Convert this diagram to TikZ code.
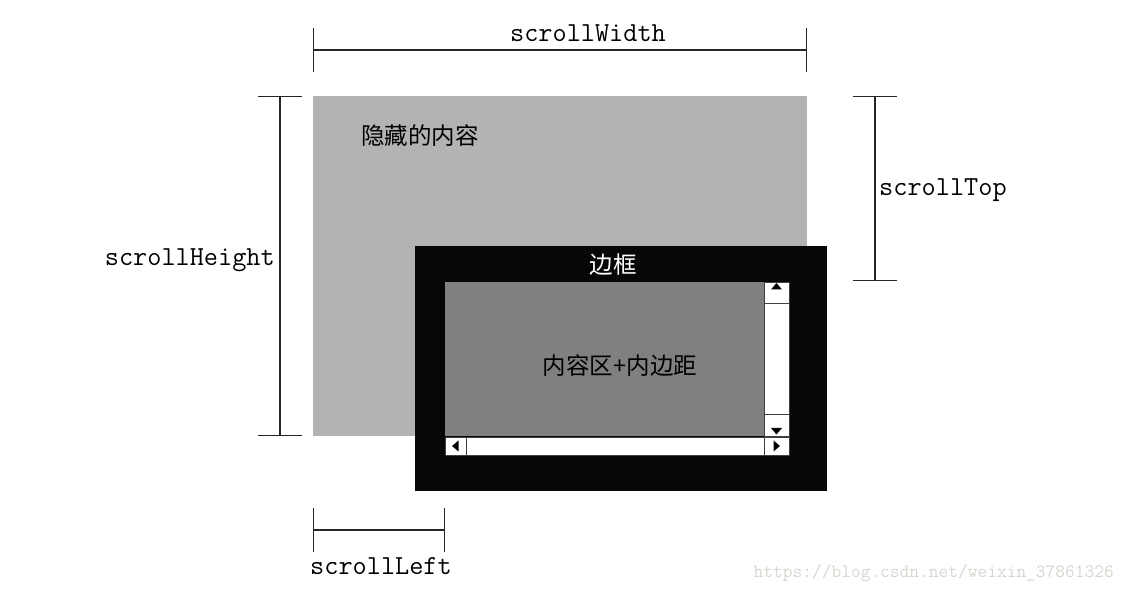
\documentclass[tikz,border=0pt]{standalone}
\usepackage{fontspec}
\newfontfamily\cjk{Noto Sans CJK SC}
\usetikzlibrary{positioning,arrows.meta}
\definecolor{hiddengray}{HTML}{B3B3B3}
\definecolor{framecol}{HTML}{060708}
\definecolor{paddcol}{HTML}{7F807F}
\definecolor{markcol}{HTML}{D6D6D0}

\begin{document}
\begin{tikzpicture}[x=1pt,y=-1pt,
   box/.style={anchor=north west,inner sep=0pt,outer sep=0pt},
   dimline/.style={line width=1.4pt,draw=black!85,{Bar[width=44pt]}-{Bar[width=44pt]}},
   dimlabel/.style={font=\ttfamily\fontsize{27.5}{27.5}\selectfont,inner sep=2pt},
   cjklabel/.style={font=\cjk\fontsize{23.5}{23.5}\selectfont,inner sep=0pt},
   btn/.style={box,fill=white,draw=black!75,line width=0.8pt},
   tip/.style={fill=black}]
\useasboundingbox (0,0) rectangle (1125,593);

% the whole scrolled content and the visible element
\node[box,fill=hiddengray,minimum width=494,minimum height=340] (hidden) at (313,96) {};
\node[cjklabel] (hiddentext) at (420,136) {隐藏的内容};
\node[box,fill=framecol,minimum width=412,minimum height=245] (frame) at (415,246) {};
\node[cjklabel,text=white] (frametext) at (613,265) {边框};
\node[box,fill=paddcol,minimum width=319,minimum height=154] (padd) at (445,282) {};
\node[cjklabel] (paddtext) at (620,366) {内容区+内边距};

% scroll bars
\node[btn,minimum width=25,minimum height=154] (vbar) at (764,282) {};
\node[btn,minimum width=25,minimum height=21] (upbtn) at (764,282) {};
\node[btn,minimum width=25,minimum height=22] (downbtn) at (764,414) {};
\node[btn,minimum width=344,minimum height=18] (hbar) at (445,437) {};
\node[btn,minimum width=21,minimum height=18] (leftbtn) at (445,437) {};
\node[btn,minimum width=25,minimum height=18] (rightbtn) at (764,437) {};
\fill[tip] ([yshift=3]upbtn.center) ++(-5.5,0) -- ++(11,0) -- ++(-5.5,-6.5) -- cycle;
\fill[tip] ([yshift=-3]downbtn.center) ++(-5.5,0) -- ++(11,0) -- ++(-5.5,6.5) -- cycle;
\fill[tip] ([xshift=-3]rightbtn.center) ++(0,-5.5) -- ++(0,11) -- ++(6.5,-5.5) -- cycle;
\fill[tip] ([xshift=3]leftbtn.center) ++(0,-5.5) -- ++(0,11) -- ++(-6.5,-5.5) -- cycle;

% dimensions
\coordinate (wa) at (313,50);
\coordinate (wb) at (807,50);
\coordinate (ha) at (280,96);
\coordinate (hb) at (280,436);
\coordinate (ta) at (875,96);
\coordinate (tb) at (875,281);
\coordinate (la) at (313,530);
\coordinate (lb) at (445,530);
\draw[dimline] (wa) -- (wb);
\draw[dimline] (ha) -- (hb);
\draw[dimline] (ta) -- (tb);
\draw[dimline] (la) -- (lb);
\node[dimlabel] (wtext) at (588,33) {scrollWidth};
\node[dimlabel,anchor=east] (htext) at (277,260) {scrollHeight};
\node[dimlabel,anchor=west] (ttext) at (877,190) {scrollTop};
\node[dimlabel] (ltext) at (381,566) {scrollLeft};

\node[anchor=east,inner sep=0pt,text=markcol,font=\ttfamily\fontsize{18.9}{18.9}\selectfont] (mark) at (1114,573) {https://blog.csdn.net/weixin\_37861326};
\end{tikzpicture}
\end{document}
